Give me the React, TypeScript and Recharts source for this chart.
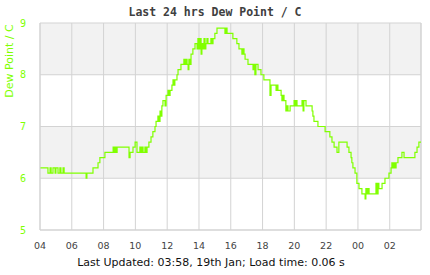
import React from "react"
import {
  LineChart,
  Line,
  XAxis,
  YAxis,
  CartesianGrid,
  ReferenceLine,
} from "recharts"

const LINE_COLOR = "#80ff00"
const GRID_COLOR = "#d3d3d3"

// minutes since 04:00, readings in C
const minutes = [
  0, 30, 38, 42, 49, 57, 60, 68, 75, 79, 87, 91, 174, 177, 200, 219, 226, 245,
  276, 279, 283, 287, 291, 336, 340, 351, 359, 366, 377, 381, 385, 389, 396, 400,
  404, 411, 419, 426, 434, 438, 445, 449, 453, 457, 460, 464, 472, 476, 483, 487,
  491, 498, 502, 506, 509, 517, 521, 532, 543, 547, 551, 555, 559, 562, 566, 570,
  577, 585, 593, 596, 600, 604, 608, 611, 615, 619, 623, 626, 630, 634, 645, 649,
  653, 660, 668, 698, 702, 706, 728, 743, 751, 762, 766, 770, 774, 785, 804, 808,
  811, 815, 823, 834, 845, 868, 872, 891, 894, 898, 910, 913, 917, 921, 928, 932,
  936, 944, 959, 962, 966, 970, 989, 993, 996, 1004, 1027, 1030, 1034, 1049, 1076,
  1094, 1102, 1110, 1121, 1128, 1159, 1166, 1174, 1177, 1181, 1189, 1196, 1204,
  1215, 1227, 1230, 1234, 1238, 1242, 1268, 1272, 1276, 1279, 1291, 1302, 1317,
  1325, 1328, 1332, 1336, 1340, 1344, 1351, 1366, 1374, 1415, 1423, 1430, 1438,
]

const dewPoint = [
  6.2, 6.1, 6.2, 6.1, 6.2, 6.1, 6.2, 6.1, 6.2, 6.1, 6.2, 6.1, 6.0, 6.1, 6.2, 6.3, 6.4, 6.5,
  6.6, 6.5, 6.6, 6.5, 6.6, 6.4, 6.5, 6.6, 6.7, 6.5, 6.6, 6.5, 6.6, 6.5, 6.6, 6.5,
  6.6, 6.7, 6.8, 6.9, 7.0, 7.1, 7.2, 7.1, 7.3, 7.2, 7.4, 7.5, 7.4, 7.6, 7.7, 7.6,
  7.7, 7.8, 7.9, 7.8, 7.9, 8.0, 8.1, 8.2, 8.3, 8.2, 8.3, 8.2, 8.1, 8.3, 8.2, 8.4,
  8.5, 8.6, 8.5, 8.7, 8.5, 8.7, 8.4, 8.6, 8.5, 8.7, 8.5, 8.6, 8.7, 8.6, 8.7, 8.6,
  8.7, 8.8, 8.9, 8.8, 8.9, 8.8, 8.7, 8.6, 8.5, 8.4, 8.5, 8.4, 8.3, 8.2, 8.1, 8.2,
  8.0, 8.2, 8.1, 8.0, 7.9, 7.6, 7.8, 7.7, 7.8, 7.7, 7.6, 7.5, 7.6, 7.5, 7.3, 7.4,
  7.3, 7.4, 7.5, 7.4, 7.5, 7.4, 7.5, 7.3, 7.5, 7.4, 7.3, 7.2, 7.1, 7.0, 6.9,
  6.8, 6.7, 6.6, 6.5, 6.7, 6.6, 6.5, 6.4, 6.3, 6.2, 6.1, 5.9, 5.8,
  5.7, 5.6, 5.8, 5.7, 5.8, 5.7, 5.9, 5.7, 5.9, 5.8, 5.9, 6.0, 6.1,
  6.2, 6.3, 6.2, 6.3, 6.2, 6.3, 6.4, 6.5, 6.4, 6.5, 6.6, 6.7, 6.7,
]

const xTicks = [0, 120, 240, 360, 480, 600, 720, 840, 960, 1080, 1200, 1320]
const yTicks = [5, 6, 7, 8, 9]
const END = 1438

const data = minutes.map((m, i) => ({ t: m, dew: dewPoint[i] }))

const hourLabel = (m: number) => String((4 + Math.round(m / 60)) % 24).padStart(2, "0")

export default function App() {
  return (
    <div style={{ position: "absolute", left: 0, top: 0, width: 430, height: 275, background: "#fff" }}>
      <div
        style={{
          position: "absolute",
          left: 0,
          width: 430,
          top: 5,
          textAlign: "center",
          fontFamily: "DejaVu Sans Mono",
          fontWeight: "bold",
          fontSize: 11.5,
          color: "#404040",
        }}
      >
        Last 24 hrs Dew Point / C
      </div>
      <div
        style={{
          position: "absolute",
          left: 9,
          top: 61,
          transform: "translate(-50%, -50%) rotate(-90deg)",
          whiteSpace: "nowrap",
          fontFamily: "DejaVu Sans",
          fontSize: 11,
          color: LINE_COLOR,
        }}
      >
        Dew Point / C
      </div>
      <LineChart
        width={430}
        height={275}
        data={data}
        margin={{ top: 23, right: 9, left: 0, bottom: 0 }}
      >
        <CartesianGrid stroke={GRID_COLOR} horizontalFill={["#f2f2f2", "#ffffff"]} />
        <XAxis
          dataKey="t"
          type="number"
          domain={[0, END]}
          ticks={xTicks}
          tickFormatter={hourLabel}
          height={45}
          tickLine={false}
          axisLine={{ stroke: GRID_COLOR }}
          tickMargin={6}
          tick={{ fontSize: 9.5, fill: "#444", fontFamily: "DejaVu Sans" }}
        />
        <YAxis
          type="number"
          domain={[5, 9]}
          ticks={yTicks}
          width={40}
          tickLine={false}
          axisLine={{ stroke: GRID_COLOR }}
          tickMargin={8}
          tick={{ fontSize: 10, fill: LINE_COLOR, fontFamily: "DejaVu Sans Mono" }}
        />
        <ReferenceLine x={END} stroke={GRID_COLOR} />
        <Line
          type="stepAfter"
          dataKey="dew"
          stroke={LINE_COLOR}
          strokeWidth={1.2}
          dot={false}
          isAnimationActive={false}
        />
      </LineChart>
      <div
        style={{
          position: "absolute",
          left: 0,
          width: 422,
          top: 256,
          textAlign: "center",
          fontFamily: "DejaVu Sans",
          fontSize: 11,
          color: "#111",
        }}
      >
        Last Updated: 03:58, 19th Jan; Load time: 0.06 s
      </div>
    </div>
  )
}
